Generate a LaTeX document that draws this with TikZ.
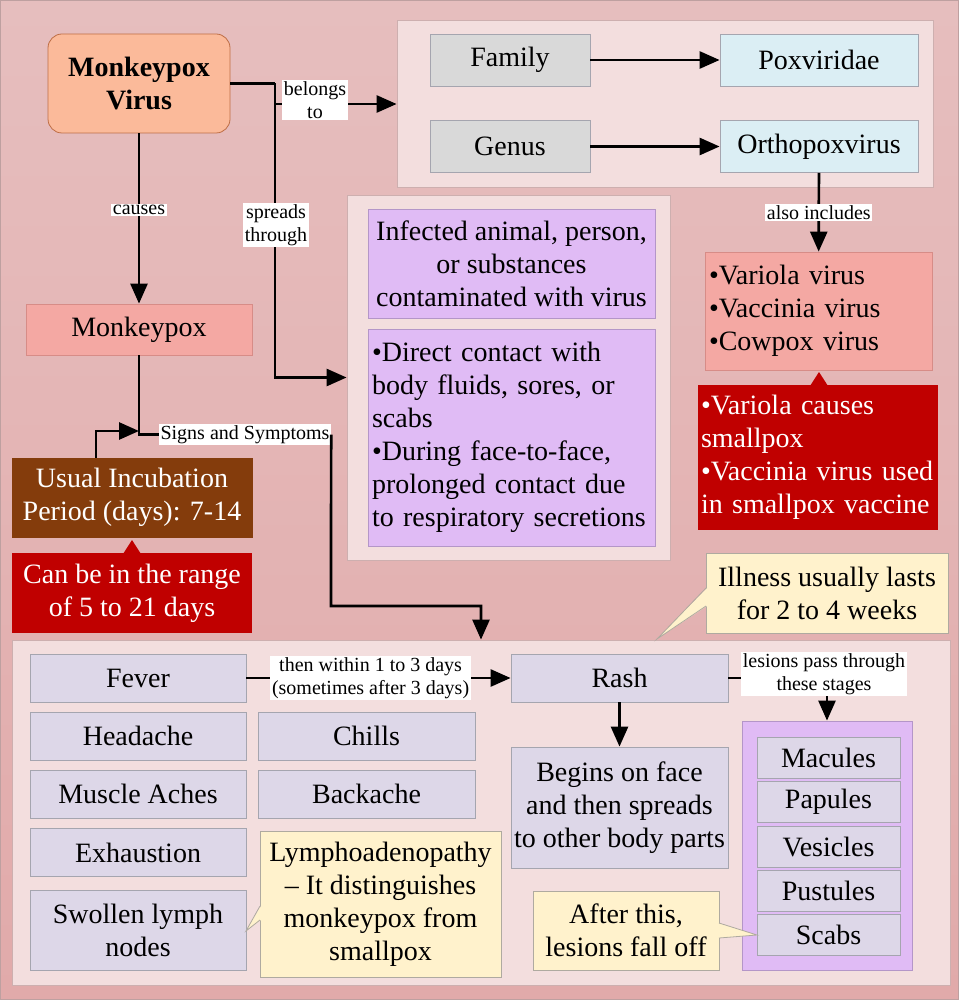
\documentclass[tikz,border=0pt]{standalone}
\usepackage{fontspec}
\setmainfont{Liberation Serif}
\usepackage{tikz}
\usetikzlibrary{arrows.meta}% big filled arrow heads

\definecolor{bgtop}{RGB}{230,190,190}
\definecolor{bgbot}{RGB}{225,170,170}
\definecolor{bgline}{RGB}{190,160,160}
\definecolor{panelpink}{RGB}{243,222,222}
\definecolor{panelline}{RGB}{205,175,175}
\definecolor{peach}{RGB}{251,186,154}
\definecolor{peachline}{RGB}{190,110,70}
\definecolor{greyfill}{RGB}{217,217,217}
\definecolor{boxline}{RGB}{165,165,175}
\definecolor{bluefill}{RGB}{219,238,244}
\definecolor{salmon}{RGB}{244,168,163}
\definecolor{salmonline}{RGB}{215,140,135}
\definecolor{purplefill}{RGB}{224,187,245}
\definecolor{purpleline}{RGB}{180,150,200}
\definecolor{symfill}{RGB}{221,215,232}
\definecolor{redfill}{RGB}{192,0,0}
\definecolor{brownfill}{RGB}{132,60,12}
\definecolor{notefill}{RGB}{255,242,204}
\definecolor{noteline}{RGB}{175,170,160}

\tikzset{every node/.style={font=\fontsize{28}{33}\selectfont}}
\tikzset{
  panel/.style={draw=panelline, fill=panelpink, line width=0.8pt, inner sep=0pt},
  box/.style={draw=boxline, line width=0.8pt, inner sep=2pt, align=center},
  greybox/.style={box, fill=greyfill, minimum width=160pt, minimum height=52pt},
  bluebox/.style={box, fill=bluefill, minimum width=198pt, minimum height=52pt},
  symbox/.style={box, fill=symfill, minimum width=216pt, minimum height=48pt},
  stagebox/.style={box, fill=symfill, minimum width=143pt, minimum height=41pt},
  redbox/.style={fill=redfill, text=white, inner sep=3pt},
  note/.style={box, fill=notefill, draw=noteline},
  lbl/.style={fill=white, inner sep=1.5pt, align=center, font=\fontsize{20}{23}\selectfont},
  conn/.style={line width=2.7pt, -{Triangle[length=20pt,width=17pt]}},
  plain/.style={line width=2.7pt}
}

\begin{document}
\begin{tikzpicture}[x=1pt,y=-1pt]
  \useasboundingbox (0,0) rectangle (959,1000);
  \shade[top color=bgtop, bottom color=bgbot, draw=bgline] (0.5,0.5) rectangle (958.5,999.5);

  % panels
  \node[panel, minimum width=536pt, minimum height=167pt] (taxpanel) at (665,103.5) {};
  \node[panel, minimum width=323pt, minimum height=365pt] (spreadpanel) at (508.5,377.5) {};
  \node[panel, minimum width=938pt, minimum height=345pt] (sympanel) at (481,812.5) {};
  \node[box, fill=purplefill, draw=purpleline, inner sep=0pt, minimum width=170pt, minimum height=249pt] (stagepanel) at (827,845.5) {};

  % virus and classification
  \node[box, fill=peach, draw=peachline, rounded corners=14pt, minimum width=182pt, minimum height=99pt,
        font=\fontsize{28}{33}\selectfont\bfseries] (virus) at (139,83.5) {Monkeypox\\Virus};
  \node[greybox] (family) at (510,60) {Family};
  \node[bluebox] (poxv) at (819,60) {Poxviridae};
  \node[greybox] (genus) at (510,146.5) {Genus};
  \node[bluebox] (ortho) at (819,146.5) {Orthopoxvirus};
  \node[box, fill=salmon, draw=salmonline, minimum width=227pt, minimum height=118pt,
        text width=219pt, inner xsep=4pt, align=left] (viruses) at (818.5,311)
        {•Variola virus\\•Vaccinia virus\\•Cowpox virus};
  \node[redbox, minimum width=240pt, minimum height=145pt, text width=234pt, align=left] (varcall) at (818,457.5)
        {•Variola causes\\smallpox\\•Vaccinia virus used\\in smallpox vaccine};
  \fill[redfill] (810,386) -- (819,372) -- (828,386) -- cycle;

  % how it spreads
  \node[box, fill=purplefill, draw=purpleline, minimum width=287pt, minimum height=109pt] (infected) at (511.5,263.5)
        {Infected animal, person,\\or substances\\contaminated with virus};
  \node[box, fill=purplefill, draw=purpleline, minimum width=287pt, minimum height=217pt,
        text width=279pt, inner xsep=4pt, align=left] (contact) at (511.5,437.5)
        {•Direct contact with\\body fluids, sores, or\\scabs\\•During face-to-face,\\prolonged contact due\\to respiratory secretions};

  % disease and incubation
  \node[box, fill=salmon, draw=salmonline, minimum width=226pt, minimum height=51pt] (mpox) at (139,329.5) {Monkeypox};
  \node[box, fill=brownfill, draw=brownfill, text=white, minimum width=240pt, minimum height=79pt] (incub) at (132,497.5)
        {Usual Incubation\\Period (days): 7-14};
  \node[redbox, minimum width=240pt, minimum height=80pt, align=center] (range) at (132,593)
        {Can be in the range\\of 5 to 21 days};
  \fill[redfill] (123,554) -- (132,540) -- (141,554) -- cycle;
  \node[note, minimum width=242pt, minimum height=80pt] (illness) at (827,593) {Illness usually lasts\\for 2 to 4 weeks};
  \fill[notefill] (707,588) -- (657,639) -- (707,606) -- cycle;
  \draw[noteline, line width=0.8pt] (706,588) -- (657,639) -- (706,606);

  % signs and symptoms
  \foreach \name/\txt/\y in {fever/Fever/678, headache/Headache/736, muscle/Muscle Aches/794, exhaust/Exhaustion/852.5}
    \node[symbox] (\name) at (138,\y) {\txt};
  \node[symbox, minimum height=80pt] (swollen) at (138,930) {Swollen lymph\\nodes};
  \node[symbox, minimum width=217pt] (chills) at (366.5,736) {Chills};
  \node[symbox, minimum width=217pt] (backache) at (366.5,794) {Backache};
  \node[note, minimum width=241pt, minimum height=146pt] (lympho) at (380.5,904)
        {Lymphoadenopathy\\– It distinguishes\\monkeypox from\\smallpox};
  \fill[notefill] (261,906) -- (246,931) -- (261,920) -- cycle;
  \draw[noteline, line width=0.8pt] (260,906) -- (246,931) -- (260,920);
  \node[symbox, minimum width=217pt] (rash) at (619.5,678) {Rash};
  \node[symbox, minimum width=217pt, minimum height=121pt] (begins) at (619.5,807.5)
        {Begins on face\\and then spreads\\to other body parts};
  \foreach \name/\txt/\y in {macules/Macules/757.5, papules/Papules/801.5, vesicles/Vesicles/846.5,
                            pustules/Pustules/890.5, scabs/Scabs/935}
    \node[stagebox] (\name) at (828.5,\y) {\txt};
  \node[note, minimum width=186pt, minimum height=79pt] (after) at (626,930.5) {After this,\\lesions fall off};
  \fill[notefill] (718,923) -- (757,935) -- (718,938) -- cycle;
  \draw[noteline, line width=0.8pt] (719,923) -- (757,935) -- (719,938);

  % connectors
  \coordinate (split) at (275,83.5);
  \coordinate (branch) at (275,104);
  \draw[plain] (virus.east) -- (split);
  \draw[conn] (split) |- (spreadpanel.west);
  \draw[conn] (branch) -- (branch -| taxpanel.west);
  \node[lbl] (belongs) at (315,100) {belongs\\to};
  \node[lbl] (spreads) at (276,225) {spreads\\through};
  \draw[conn] (virus.south) -- node[lbl, pos=0.45] (causes) {causes} (mpox.north);
  \draw[conn] (family) -- (poxv);
  \draw[conn] (genus) -- (ortho);
  \draw[conn] (ortho) -- node[lbl] (includes) {also includes} (viruses);

  \node[lbl] (signs) at (245,434.5) {Signs and Symptoms};
  \coordinate (bend) at (331,606);
  \coordinate (incubjoin) at (139,431);
  \draw[plain] (mpox.south) |- (signs.west);
  \draw[conn] (signs.east) -- (bend) -| (sympanel.north);
  \draw[conn] ([xshift=-36pt]incub.north) |- (incubjoin);

  \draw[conn] (fever) -- node[lbl, pos=0.47] (within) {then within 1 to 3 days\\(sometimes after 3 days)} (rash);
  \draw[conn] (rash) -- (begins);
  \draw[conn] (rash.east) -| (stagepanel.north);
  \node[lbl] (stages) at (824,674) {lesions pass through\\these stages};
\end{tikzpicture}
\end{document}
